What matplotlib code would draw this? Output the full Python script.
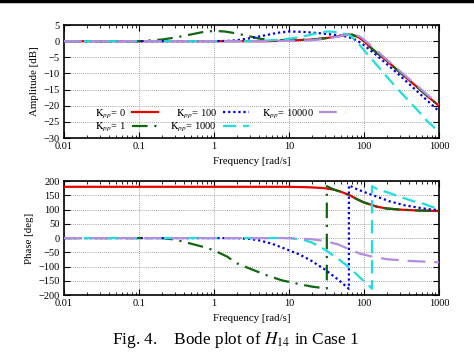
import matplotlib
matplotlib.use("Agg")
import matplotlib.pyplot as plt
from matplotlib.lines import Line2D
from matplotlib.ticker import LogLocator, NullFormatter

plt.rcParams['font.family'] = ['Liberation Serif', 'DejaVu Serif']
plt.rcParams['mathtext.fontset'] = 'stix'

# ---------------- data ----------------
labels = ["$\\mathrm{K}_{pp}$= 0", "$\\mathrm{K}_{pp}$= 1", "$\\mathrm{K}_{pp}$= 100",
          "$\\mathrm{K}_{pp}$= 1000", "$\\mathrm{K}_{pp}$= 10000"]

# Amplitude [dB]
amp0_f = [0.01, 1, 5, 10, 20, 30, 45, 60, 70, 85, 100, 130, 200, 300, 500, 700, 1000]
amp0_v = [0, 0, 0, 0.2, 0.5, 0.9, 1.5, 2.0, 2.0, 1.2, 0.0, -2.5, -6.0, -9.6, -14.0, -17.0, -20.0]

amp1_f = [0.01, 0.1, 0.2, 0.3, 0.45, 0.7, 1, 1.4, 2, 3, 4, 6, 10, 20, 30, 45, 60, 70, 85, 100, 130, 200, 300, 500, 700, 1000]
amp1_v = [0, 0, 0.5, 1.1, 1.9, 2.8, 3.2, 3.0, 2.4, 1.5, 0.8, 0.35, 0.3, 0.5, 0.9, 1.5, 2.0, 2.0, 1.2, 0.0, -2.5, -6.0, -9.6, -14.0, -17.0, -20.0]

amp100_f = [0.01, 1, 1.5, 2, 3, 5, 7, 10, 15, 25, 40, 60, 80, 100, 150, 200, 300, 500, 700, 1000]
amp100_v = [0, 0, 0.1, 0.3, 0.9, 1.9, 2.6, 3.0, 2.9, 2.5, 2.0, 1.4, 0.3, -1.2, -4.5, -7.0, -10.6, -15.3, -18.4, -21.7]

amp1000_f = [0.01, 3, 5, 8, 12, 18, 25, 32, 40, 55, 65, 80, 100, 150, 220, 300, 500, 700, 1000]
amp1000_v = [0, 0, 0.2, 0.5, 1.0, 1.8, 2.6, 3.0, 2.9, 2.3, 1.8, 0.0, -2.8, -7.5, -12.0, -15.5, -21.0, -24.8, -28.0]

amp10000_f = [0.01, 5, 10, 20, 30, 45, 60, 75, 90, 100, 130, 200, 300, 500, 700, 1000]
amp10000_v = [0, 0, 0.1, 0.3, 0.7, 1.4, 2.0, 2.1, 1.3, 0.5, -1.8, -5.6, -9.2, -13.6, -16.6, -19.5]

# Phase [deg]
ph0_f = [0.01, 10, 15, 20, 30, 40, 50, 65, 80, 100, 150, 200, 300, 500, 1000]
ph0_v = [180, 180, 179, 178, 175, 170, 162, 150, 137, 125, 110, 104, 100, 97, 95]

ph1_f = [0.01, 0.2, 0.3, 0.5, 0.7, 1, 1.5, 2, 3, 5, 8, 14, 20, 32, 32, 40, 50, 65, 80, 100, 150, 200, 300, 500, 1000]
ph1_v = [0, 0, -5, -20, -30, -43, -65, -88, -107, -130, -148, -162, -170, -177, 182, 170, 162, 150, 137, 125, 110, 104, 100, 97, 95]

ph100_f = [0.01, 2, 3, 4, 6, 9, 14, 20, 30, 45, 63, 63, 80, 100, 150, 220, 350, 500, 700, 1000]
ph100_v = [0, 0, -3, -8, -20, -38, -58, -80, -110, -145, -178, 185, 172, 162, 145, 129, 115, 108, 102, 98]

ph1000_f = [0.01, 10, 15, 20, 30, 45, 65, 90, 120, 128, 128, 150, 220, 300, 450, 600, 800, 1000]
ph1000_v = [0, 0, -5, -15, -40, -72, -105, -140, -170, -178, 182, 172, 158, 145, 130, 122, 110, 104]

ph10000_f = [0.01, 10, 20, 30, 45, 65, 90, 120, 200, 400, 1000]
ph10000_v = [0, 0, -4, -10, -22, -40, -55, -63, -74, -80, -85]

xticks = [0.01, 0.1, 1, 10, 100, 1000]
xticklabels = ["0.01", "0.1", "1", "10", "100", "1000"]
amp_ticks = [5, 0, -5, -10, -15, -20, -25, -30]
ph_ticks = [200, 150, 100, 50, 0, -50, -100, -150, -200]

# ---------------- styles ----------------
styles = [
    dict(color="#e60000", linestyle="-"),
    dict(color="#116611", linestyle=(0, (7, 3, 1, 3))),
    dict(color="#0000dd", linestyle=(0, (1, 1.3))),
    dict(color="#22dddd", linestyle=(0, (6, 3))),
    dict(color="#b38ee0", linestyle=(0, (8, 4))),
]
lw = 1.6

fig = plt.figure(figsize=(4.74, 3.53), dpi=100)
ax1 = fig.add_axes([0.135, 0.609, 0.791, 0.320])
ax2 = fig.add_axes([0.135, 0.164, 0.791, 0.323])

amp_data = [(amp0_f, amp0_v), (amp1_f, amp1_v), (amp100_f, amp100_v),
            (amp1000_f, amp1000_v), (amp10000_f, amp10000_v)]
ph_data = [(ph0_f, ph0_v), (ph1_f, ph1_v), (ph100_f, ph100_v),
           (ph1000_f, ph1000_v), (ph10000_f, ph10000_v)]

order = [0, 4, 3, 2, 1]
for i in order:
    f, v = amp_data[i]
    ax1.plot(f, v, lw=lw, label=labels[i], zorder=3 + i, **styles[i])
    f, v = ph_data[i]
    ax2.plot(f, v, lw=lw, zorder=3 + i, **styles[i])

for ax, yt, ylab in [(ax1, amp_ticks, "Amplitude [dB]"), (ax2, ph_ticks, "Phase [deg]")]:
    ax.set_xscale("log")
    ax.set_xlim(0.01, 1000)
    ax.set_xticks(xticks)
    ax.set_xticklabels(xticklabels)
    ax.xaxis.set_minor_locator(LogLocator(base=10, subs=range(2, 10), numticks=20))
    ax.xaxis.set_minor_formatter(NullFormatter())
    ax.set_yticks(yt)
    ax.set_ylim(min(yt), max(yt))
    ax.grid(True, which="major", color="#888888", linestyle=(0, (1, 1.5)), linewidth=0.6)
    ax.tick_params(which="both", direction="in", top=True, right=True, labelsize=7.5, pad=3)
    ax.tick_params(which="major", length=4, width=0.8)
    ax.tick_params(which="minor", length=2, width=0.6)
    for s in ax.spines.values():
        s.set_linewidth(1.2)
    ax.set_xlabel("Frequency [rad/s]", fontsize=7.8, labelpad=4)
    ax.set_ylabel(ylab, fontsize=7.8, labelpad=3)

# legend (handles built from the plotted line styles)
handles = [Line2D([], [], lw=lw, **styles[i]) for i in range(5)]
leg = ax1.legend(handles, labels, ncol=3, markerfirst=False, frameon=False,
                 fontsize=7.6, handlelength=2.5, columnspacing=1.15, labelspacing=0.05,
                 handletextpad=0.55, borderpad=0, borderaxespad=0,
                 loc="upper left", bbox_to_anchor=(0.083, 0.27))

fig.text(0.497, 0.037, "Fig. 4.    Bode plot of $H_{14}$ in Case 1", ha="center", va="center", fontsize=12.4)

# black bar at top of image
fig.add_artist(Line2D([0, 1], [0.996, 0.996], transform=fig.transFigure, color="black", lw=2.5))

fig.savefig("out.png", dpi=100)
